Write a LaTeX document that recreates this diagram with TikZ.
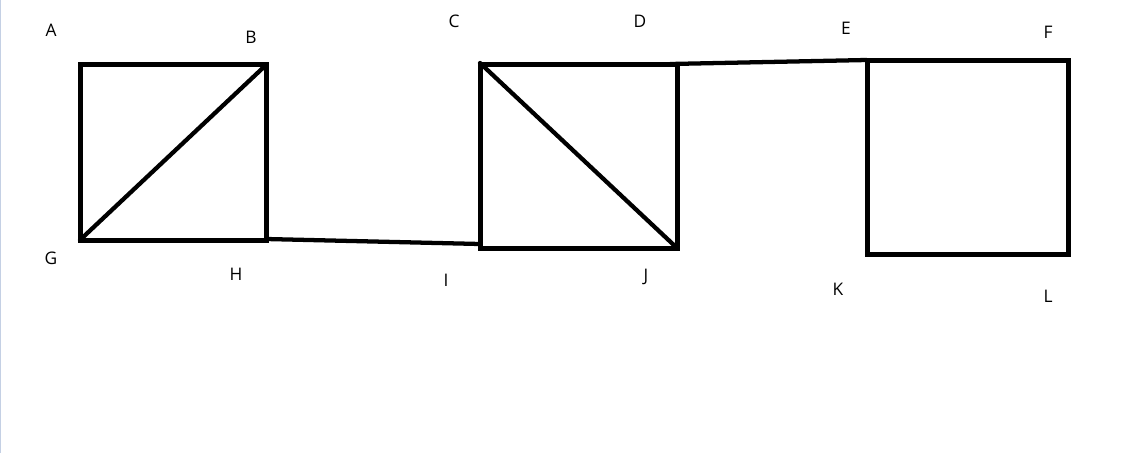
\documentclass[tikz,border=0pt]{standalone}
\usepackage{fontspec}
\setmainfont{Open Sans}
\definecolor{edgeblue}{RGB}{196,208,228}
\tikzset{
  pen/.style={line width=3.75pt, black},
  thinpen/.style={line width=3.2pt, black},
  lbl/.style={font=\fontsize{13pt}{15pt}\selectfont, inner sep=0pt, text=black}
}
\begin{document}
\begin{tikzpicture}[x=0.75pt, y=-0.75pt]
\useasboundingbox (0,0) rectangle (1121,453);
\fill[white] (0,0) rectangle (1121,453);
\draw[edgeblue, line width=1.2pt] (0.6,0) -- (0.6,453);
% corners
\coordinate (g1) at (80,240);
\coordinate (b1) at (266,65);
\coordinate (c2) at (480,65);
\coordinate (j2) at (677,248);
\coordinate (e3) at (867,61);
\coordinate (l3) at (1068.5,254);
% boxes
\draw[pen] (g1) rectangle (b1);
\draw[pen] (c2) rectangle (j2);
\draw[pen] (e3) rectangle (l3);
% diagonals
\draw[thinpen, line cap=round] (g1) -- (b1);
\draw[thinpen, line cap=round] (480,63) -- (j2);
% connectors
\coordinate (h1) at (266,239);
\coordinate (i2) at (480,244);
\coordinate (d2) at (670,64);
\coordinate (e2) at (867,60);
\draw[thinpen] (h1) -- (i2);
\draw[thinpen] (d2) -- (e2);
% labels
\node[lbl] (A) at (51,30) {A};
\node[lbl] (B) at (251,37) {B};
\node[lbl] (C) at (454,21) {C};
\node[lbl] (D) at (640,21) {D};
\node[lbl] (E) at (846,28) {E};
\node[lbl] (F) at (1048,32) {F};
\node[lbl] (G) at (51,258) {G};
\node[lbl] (H) at (236,274) {H};
\node[lbl] (I) at (446,280) {I};
\node[lbl] (J) at (646,277) {J};
\node[lbl] (K) at (838,289) {K};
\node[lbl] (L) at (1048,296) {L};
\end{tikzpicture}
\end{document}
